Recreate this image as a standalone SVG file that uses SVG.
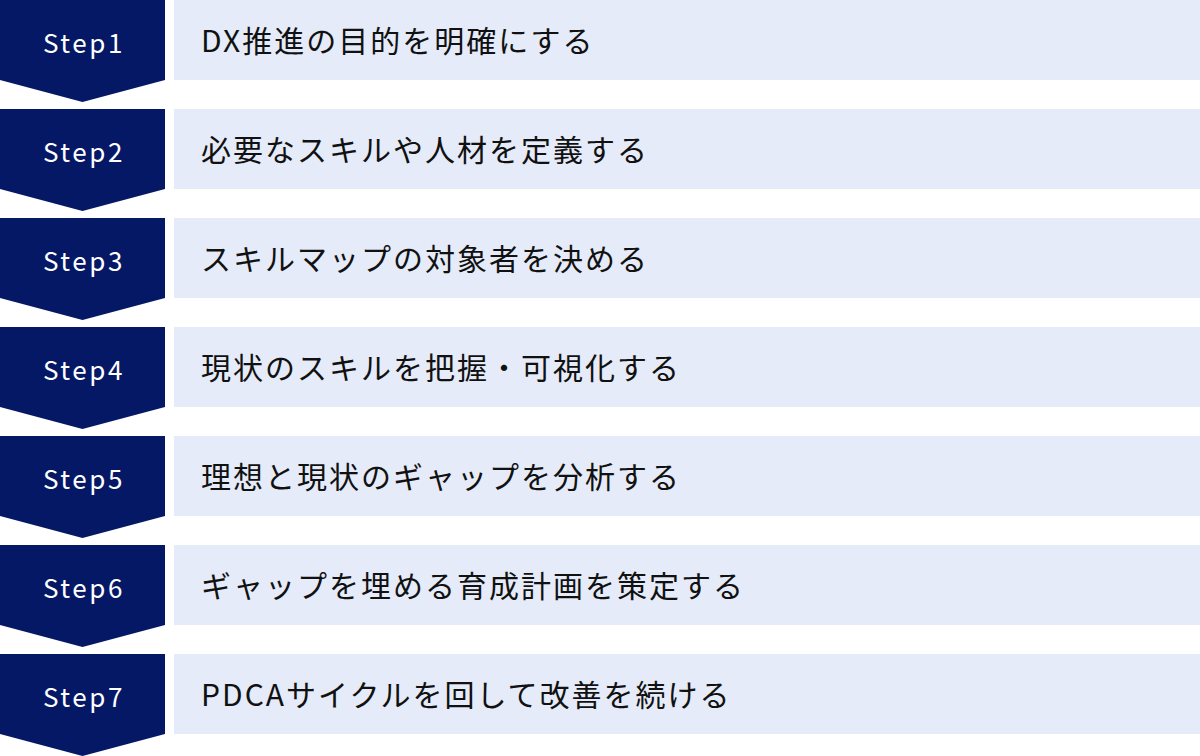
<svg xmlns="http://www.w3.org/2000/svg" width="1200" height="756" viewBox="0 0 1200 756">
<style>
.arrow{fill:#051865}
.box{fill:#e5ebf8}
.step{font-family:"Noto Sans CJK JP","Noto Sans",sans-serif;font-size:26px;font-weight:400;fill:#ffffff;text-anchor:middle;letter-spacing:2.6px}
.label{font-family:"Noto Sans CJK JP","Noto Sans",sans-serif;font-size:30px;fill:#111111;letter-spacing:2px}
</style>
<rect width="1200" height="756" fill="#ffffff"/>
<g id="step1">
<polygon class="arrow" points="0,0 165,0 165,80 82.5,102 0,80"/>
<rect class="box" x="174" y="0" width="1026" height="80"/>
<text class="step" x="84" y="53">Step1</text>
<text class="label" x="201" y="52">DX推進の目的を明確にする</text>
</g>
<g id="step2">
<polygon class="arrow" points="0,109 165,109 165,189 82.5,211 0,189"/>
<rect class="box" x="174" y="109" width="1026" height="80"/>
<text class="step" x="84" y="162">Step2</text>
<text class="label" x="201" y="161">必要なスキルや人材を定義する</text>
</g>
<g id="step3">
<polygon class="arrow" points="0,218 165,218 165,298 82.5,320 0,298"/>
<rect class="box" x="174" y="218" width="1026" height="80"/>
<text class="step" x="84" y="271">Step3</text>
<text class="label" x="201" y="270">スキルマップの対象者を決める</text>
</g>
<g id="step4">
<polygon class="arrow" points="0,327 165,327 165,407 82.5,429 0,407"/>
<rect class="box" x="174" y="327" width="1026" height="80"/>
<text class="step" x="84" y="380">Step4</text>
<text class="label" x="201" y="379">現状のスキルを把握・可視化する</text>
</g>
<g id="step5">
<polygon class="arrow" points="0,436 165,436 165,516 82.5,538 0,516"/>
<rect class="box" x="174" y="436" width="1026" height="80"/>
<text class="step" x="84" y="489">Step5</text>
<text class="label" x="201" y="488">理想と現状のギャップを分析する</text>
</g>
<g id="step6">
<polygon class="arrow" points="0,545 165,545 165,625 82.5,647 0,625"/>
<rect class="box" x="174" y="545" width="1026" height="80"/>
<text class="step" x="84" y="598">Step6</text>
<text class="label" x="201" y="597">ギャップを埋める育成計画を策定する</text>
</g>
<g id="step7">
<polygon class="arrow" points="0,654 165,654 165,734 82.5,756 0,734"/>
<rect class="box" x="174" y="654" width="1026" height="80"/>
<text class="step" x="84" y="707">Step7</text>
<text class="label" x="201" y="706">PDCAサイクルを回して改善を続ける</text>
</g>
<g id="connectors"></g>
</svg>
